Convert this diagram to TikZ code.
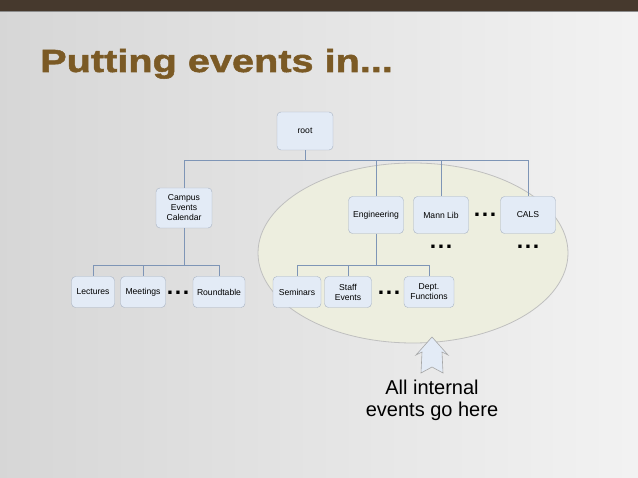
\documentclass[tikz,border=0pt]{standalone}
\usepackage{fontspec}
\setmainfont{Liberation Sans}
\newfontfamily\titlefont[FakeStretch=1.24, FakeBold=1.6]{Liberation Sans Bold}
\usepackage{tikz}
\usetikzlibrary{positioning}

\definecolor{boxfill}{HTML}{E3EBF6}
\definecolor{boxline}{HTML}{A7B2C2}
\definecolor{treeline}{HTML}{7E95B6}
\definecolor{titlebrown}{HTML}{7B5A25}
\definecolor{barbrown}{HTML}{46392D}
\definecolor{ovalfill}{HTML}{EDEEDF}

\tikzset{
  box/.style={draw=boxline, fill=boxfill, rounded corners=4pt, align=center,
              inner sep=1pt, font=\fontsize{8.6}{10}\selectfont},
  toprow/.style={box, minimum width=55, minimum height=37},
  lowrow/.style={box, minimum height=31},
  tree/.style={draw=treeline, line width=0.9pt},
  moredots/.style={inner sep=0pt, font=\fontsize{23}{23}\bfseries\selectfont}
}

\newcommand{\threedots}{.\kern1.6pt.\kern1.6pt.}

\begin{document}
\begin{tikzpicture}[x=1pt, y=-1pt]
  \useasboundingbox (0,0) rectangle (638,478);
  % slide background
  \shade[left color=black!16, right color=black!5] (0,0) rectangle (638,478);
  \fill[barbrown] (0,0) rectangle (638,11);
  \draw[black!45, line width=1pt] (0,11.5) -- (638,11.5);
  \node[anchor=base west, text=titlebrown, inner sep=0pt,
        font=\titlefont\fontsize{32}{32}\selectfont] (title) at (40,72) {Putting events in...};

  % the oval with internal events
  \filldraw[fill=ovalfill, draw=black!25, line width=0.8pt] (413,253) ellipse [x radius=155, y radius=90];

  % tree
  \node[box, minimum width=56, minimum height=38] (root) at (305,131) {root};
  \node[box, minimum width=56, minimum height=40] (campus) at (184,208) {Campus\\Events\\Calendar};
  \node[toprow] (eng) at (376,215) {Engineering};
  \node[toprow] (mann) at (441,215) {Mann Lib};
  \node[toprow] (cals) at (528,215) {CALS};

  \node[lowrow, minimum width=43] (lect) at (93,292) {Lectures};
  \node[lowrow, minimum width=45] (meet) at (143,292) {Meetings};
  \node[lowrow, minimum width=52] (round) at (219,292) {Roundtable};
  \node[lowrow, minimum width=48] (sem) at (297,292) {Seminars};
  \node[lowrow, minimum width=47] (staff) at (348,292) {Staff\\Events};
  \node[lowrow, minimum width=50] (dept) at (429,292) {Dept.\\Functions};

  \draw[tree] (root.south) -- ++(0,10) coordinate (rootbus);
  \draw[tree] (rootbus) -| (campus.north);
  \draw[tree] (rootbus) -| (eng.north);
  \draw[tree] (rootbus) -| (mann.north);
  \draw[tree] (rootbus) -| (cals.north);

  \draw[tree] (campus.south) -- ++(0,37) coordinate (campusbus);
  \draw[tree] (campusbus) -| (lect.north);
  \draw[tree] (campusbus) -| (meet.north);
  \draw[tree] (campusbus) -| (round.north);

  \draw[tree] (eng.south) -- ++(0,31.5) coordinate (engbus);
  \draw[tree] (engbus) -| (sem.north);
  \draw[tree] (engbus) -| (staff.north);
  \draw[tree] (engbus) -| (dept.north);

  % the "and more" marks
  \node[moredots] (dots1) at (485,215) {\threedots};
  \node[moredots] (dots2) at (441,247) {\threedots};
  \node[moredots] (dots3) at (528,247) {\threedots};
  \node[moredots] (dots4) at (178,293) {\threedots};
  \node[moredots] (dots5) at (389,293) {\threedots};

  % pointer up into the oval
  \filldraw[fill=boxfill, draw=black!35, line width=0.6pt]
    (432,337) -- (448,355) -- (442,352) -- (443,373) -- (432,367)
    -- (421,373) -- (422,352) -- (416,355) -- cycle;
  \node[align=center, font=\fontsize{20}{22}\selectfont] (note) at (432,400)
    {All internal\\events go here};
\end{tikzpicture}
\end{document}
